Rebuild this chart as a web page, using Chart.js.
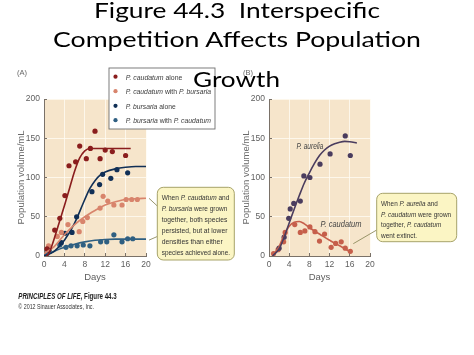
<!DOCTYPE html>
<html><head><meta charset="utf-8">
<script src="https://cdn.jsdelivr.net/npm/chart.js@4.4.1/dist/chart.umd.min.js"></script>
<style>
html,body{margin:0;padding:0;background:#fff;width:474px;height:355px;overflow:hidden;position:relative;}
.wrap{position:absolute;top:0;}
#wa{left:0;width:240px;height:290px;}
#wb{left:224px;width:250px;height:290px;}
#ov{position:absolute;left:0;top:0;}
</style></head><body>
<div class="wrap" id="wa"><canvas id="ca"></canvas></div>
<div class="wrap" id="wb"><canvas id="cb"></canvas></div>
<svg id="ov" xmlns="http://www.w3.org/2000/svg" width="474" height="355"></svg>
<script>
// ---------- text ----------
const titleLines = ['Figure 44.3  Interspecific', 'Competition Affects Population', 'Growth'];
const panelLabels = ['(A)', '(B)'];
const xTitle = 'Days';
const yTitle = 'Population volume/mL';
const xTickValues = [0, 4, 8, 12, 16, 20];
const yTickValues = [0, 50, 100, 150, 200];
const legendLabels = ['*P. caudatum* alone', '*P. caudatum* with *P. bursaria*', '*P. bursaria* alone', '*P. bursaria* with *P. caudatum*'];
const calloutTextA = ['When *P. caudatum* and', '*P. bursaria* were grown', 'together, both species', 'persisted, but at lower', 'densities than either', 'species achieved alone.'];
const calloutTextB = ['When *P. aurelia* and', '*P. caudatum* were grown', 'together, *P. caudatum*', 'went extinct.'];
const curveLabelsB = ['*P. aurelia*', '*P. caudatum*'];
const footerLines = ['*PRINCIPLES OF LIFE,* Figure 44.3', '\u00A9 2012 Sinauer Associates, Inc.'];

// ---------- panel A data (observed points) ----------
const daysCaudatumAlone = [0.6, 2.1, 3.1, 4.1, 4.9, 6.2, 7.0, 8.3, 9.1, 10.0, 11.0, 12.0, 13.4, 16.0];
const caudatumAlone     = [9,   33,  48,  77,  115, 120, 140, 124, 137, 159,  124,  135,  133,  128];
const daysCaudatumWithBursaria = [0.9, 2.6, 3.4, 4.7, 6.9, 7.6, 8.5, 11.0, 11.6, 12.5, 13.7, 15.3, 16.1, 17.2, 18.3];
const caudatumWithBursaria     = [13,  25,  30,  40,  31,  44,  49,  61,   76,   70,   65,   65,   72,   72,   72];
const daysBursariaAlone = [1.0, 3.4, 4.1, 5.5, 6.4, 9.4, 10.9, 11.5, 13.1, 14.3, 16.4];
const bursariaAlone     = [7,   17,  29,  30,  50,  82,  91,   104,  99,   110,  106];
const daysBursariaWithCaudatum = [0.6, 3.1, 4.3, 5.3, 6.5, 7.7, 9.0, 11.1, 12.3, 13.7, 15.3, 16.4, 17.4];
const bursariaWithCaudatum     = [3,   14,  11,  13,  13,  14,  13,  18,   18,   27,   18,   22,   22];

// ---------- panel A fitted curves ----------
const curveDaysCaudatumAlone = [0.5, 1, 2, 3, 4, 5, 6, 7, 8, 9, 10, 12, 14, 17];
const curveCaudatumAlone     = [0, 4, 22, 43, 64, 86, 108, 125, 134, 137, 137, 137, 137, 137];
const curveDaysCaudatumWithBursaria = [0, 2, 4, 6, 8, 10, 12, 14, 16, 18, 20];
const curveCaudatumWithBursaria     = [3, 12, 27, 40, 50, 58, 65, 69, 72, 73, 73.5];
const curveDaysBursariaAlone = [0, 2, 4, 6, 8, 9, 10, 11, 12, 14, 16, 18, 20];
const curveBursariaAlone     = [0, 6, 20, 42, 72, 86, 96, 103, 107, 111, 113, 114, 114];
const curveDaysBursariaWithCaudatum = [0, 2, 4, 6, 8, 10, 12, 14, 16, 18, 20];
const curveBursariaWithCaudatum     = [0, 6, 11, 15, 18, 20, 21, 21.5, 21.5, 21.5, 21.5];

// ---------- panel B data ----------
const daysAurelia = [2.0, 3.0, 3.9, 4.2, 4.9, 6.2, 6.9, 8.1, 10.1, 12.1, 15.1, 16.1];
const aurelia     = [10,  24,  48,  60,  67,  70,  102, 100, 117,  130,  153,  128];
const daysCaudatumB = [0.9, 1.8, 2.9, 3.2, 5.1, 6.2, 7.1, 8.1, 9.1, 10.0, 11.0, 12.3, 13.2, 14.3, 15.1, 16.1];
const caudatumB     = [3,   8,   18,  30,  40,  30,  32,  37,  31,  19,   28,   11,   16,   18,   10,   6];
const curveDaysAurelia = [0.7, 2, 3, 4, 5, 6, 7, 8, 9, 10, 11, 12, 13, 14, 15, 16, 17.4];
const curveAurelia     = [0, 9, 24, 42, 60, 77, 93, 106, 118, 128, 135, 140, 143, 145, 146, 145.5, 144];
const curveDaysCaudatumB = [0.7, 2, 3, 4, 5, 6, 7, 8, 10, 12, 14, 16.2];
const curveCaudatumB     = [0, 12, 27, 38, 43, 44, 41, 36, 28, 20, 13, 5];

// ---------- styles ----------
const colCaudatumAlone = '#8a1d1d';
const colCaudatumWith  = '#d8846c';
const colBursariaAlone = '#102f56';
const colBursariaWith  = '#2f5f82';
const colAurelia       = '#4a3c5e';
const colCaudatumB     = '#c65f4b';
const plotBg = '#f6e5cb';
const axisCol = '#7a7168';
const FONT = '"Liberation Sans", Arial, sans-serif';

Chart.defaults.font.family = FONT;

function pts(xs, ys) { return xs.map((x, i) => ({ x: x, y: ys[i] })); }
function pointDs(label, xs, ys, color) {
  return { label, data: pts(xs, ys), showLine: false, pointRadius: 2.6, pointHoverRadius: 2.6,
    pointBackgroundColor: color, pointBorderWidth: 0, borderColor: color, backgroundColor: color, order: 2 };
}
function curveDs(label, xs, ys, color) {
  return { label, data: pts(xs, ys), showLine: true, pointRadius: 0, pointHoverRadius: 0, borderColor: color,
    borderWidth: 1.6, fill: false, cubicInterpolationMode: 'monotone', order: 1 };
}

function makeScales(yWidth, yTitlePad) {
  return {
    x: {
      type: 'linear', position: 'bottom', min: 0, max: 20,
      afterBuildTicks: s => { s.ticks = xTickValues.map(v => ({ value: v })); },
      afterFit: s => { s.height = 34; },
      border: { display: true, color: axisCol, width: 1 },
      grid: { color: 'rgba(255,251,242,0.8)', lineWidth: 1, tickColor: axisCol, tickLength: -3, drawTicks: true },
      ticks: { color: '#5e5e5e', font: { size: 8.5 }, padding: 7, maxRotation: 0, autoSkip: false },
      title: { display: true, text: xTitle, color: '#5e5e5e', font: { size: 9.5 }, padding: { top: 0, bottom: 6.6 } }
    },
    y: {
      type: 'linear', position: 'left', min: 0, max: 200,
      afterBuildTicks: s => { s.ticks = yTickValues.map(v => ({ value: v })); },
      afterFit: s => { s.width = yWidth; },
      border: { display: true, color: axisCol, width: 1 },
      grid: { color: 'rgba(255,251,242,0.8)', lineWidth: 1, tickColor: axisCol, tickLength: -3, drawTicks: true },
      ticks: { color: '#5e5e5e', font: { size: 8.5 }, padding: 7 },
      title: { display: true, text: yTitle, color: '#6a6a6a', font: { size: 9.5 }, padding: { top: yTitlePad, bottom: 0 } }
    }
  };
}

// callout boxes (page coordinates) and pointer targets (dataset index, offsets)
const calloutA = { x: 157.3, y: 187.3, w: 77, h: 72.7, pointers: [{ ds: 5, dx: 3, dy: 0, toY: 206 }, { ds: 7, dx: 3, dy: 1, toY: 236.5 }] };
const calloutB = { x: 376.7, y: 193.3, w: 80, h: 48.4, pointers: [{ ds: 3, dx: 2.5, dy: -8.4, toY: 230 }] };

function makePlugin(callout, offsetX) {
  return {
    id: 'deco',
    beforeDraw(chart) {
      const a = chart.chartArea, ctx = chart.ctx;
      ctx.save(); ctx.fillStyle = plotBg; ctx.fillRect(a.left, a.top, a.right - a.left, a.bottom - a.top); ctx.restore();
    },
    afterDraw(chart) {
      const ctx = chart.ctx, xs = chart.scales.x, ys = chart.scales.y;
      ctx.save(); ctx.strokeStyle = '#8d8a5c'; ctx.lineWidth = 0.9;
      callout.pointers.forEach(p => {
        const d = chart.data.datasets[p.ds].data; const last = d[d.length - 1];
        const px = xs.getPixelForValue(last.x) + p.dx, py = ys.getPixelForValue(last.y) + p.dy;
        ctx.beginPath(); ctx.moveTo(px, py); ctx.lineTo(callout.x - offsetX, p.toY); ctx.stroke();
      });
      ctx.restore();
    }
  };
}

const dsA = [
  pointDs(legendLabels[0], daysCaudatumAlone, caudatumAlone, colCaudatumAlone),
  pointDs(legendLabels[1], daysCaudatumWithBursaria, caudatumWithBursaria, colCaudatumWith),
  pointDs(legendLabels[2], daysBursariaAlone, bursariaAlone, colBursariaAlone),
  pointDs(legendLabels[3], daysBursariaWithCaudatum, bursariaWithCaudatum, colBursariaWith),
  curveDs('fit caudatum alone', curveDaysCaudatumAlone, curveCaudatumAlone, colCaudatumAlone),
  curveDs('fit caudatum with bursaria', curveDaysCaudatumWithBursaria, curveCaudatumWithBursaria, colCaudatumWith),
  curveDs('fit bursaria alone', curveDaysBursariaAlone, curveBursariaAlone, colBursariaAlone),
  curveDs('fit bursaria with caudatum', curveDaysBursariaWithCaudatum, curveBursariaWithCaudatum, colBursariaWith)
];
const dsB = [
  pointDs('P. aurelia', daysAurelia, aurelia, colAurelia),
  pointDs('P. caudatum', daysCaudatumB, caudatumB, colCaudatumB),
  curveDs('fit aurelia', curveDaysAurelia, curveAurelia, colAurelia),
  curveDs('fit caudatum', curveDaysCaudatumB, curveCaudatumB, colCaudatumB)
];

function makeChart(id, datasets, padRight, yWidth, yTitlePad, plugin) {
  return new Chart(document.getElementById(id), {
    type: 'scatter',
    data: { datasets },
    options: {
      responsive: true, maintainAspectRatio: false, animation: false, devicePixelRatio: 1,
      layout: { padding: { left: 0, top: 99, right: padRight, bottom: 0 } },
      plugins: { legend: { display: false }, tooltip: { enabled: false } },
      scales: makeScales(yWidth, yTitlePad)
    },
    plugins: [plugin]
  });
}
makeChart('ca', dsA, 94, 44, 16, makePlugin(calloutA, 0));
makeChart('cb', dsB, 104, 45, 17, makePlugin(calloutB, 224));

// ---------- SVG overlay: annotations ----------
const NS = 'http://www.w3.org/2000/svg';
const ov = document.getElementById('ov');
function mk(tag, attrs, parent) {
  const e = document.createElementNS(NS, tag);
  for (const k in attrs) e.setAttribute(k, attrs[k]);
  (parent || ov).appendChild(e); return e;
}
function svgText(str, x, y, o) {
  const t = mk('text', { x, y, 'font-size': o.size, fill: o.fill || '#333', 'font-family': o.family || FONT });
  if (o.weight) t.setAttribute('font-weight', o.weight);
  t.style.whiteSpace = 'pre';
  str.split(/(\*[^*]+\*)/).forEach(part => {
    if (!part) return;
    const ts = mk('tspan', {}, t);
    if (part[0] === '*') { ts.setAttribute('font-style', 'italic'); ts.textContent = part.slice(1, -1); }
    else ts.textContent = part;
  });
  if (o.width) { t.setAttribute('textLength', o.width); t.setAttribute('lengthAdjust', 'spacingAndGlyphs'); }
  return t;
}

// panel labels
svgText(panelLabels[0], 17, 75, { size: 8, fill: '#666', width: 10 });
svgText(panelLabels[1], 243, 75, { size: 8, fill: '#666', width: 10 });

// legend
mk('rect', { x: 109, y: 68, width: 106, height: 61, fill: '#fff', stroke: '#6f6f6f', 'stroke-width': 0.9 });
const legendRowsY = [79.5, 94, 108.6, 123];
const legendWidths = [56.7, 85.3, 50, 85.3];
legendLabels.forEach((lab, i) => {
  mk('circle', { cx: 115.5, cy: legendRowsY[i] - 2.8, r: 2.1, fill: dsA[i].pointBackgroundColor });
  svgText(lab, 125.7, legendRowsY[i], { size: 8, fill: '#3a3a3a', width: legendWidths[i] });
});

// callouts
function drawCallout(c, lines, widths, firstBase, step) {
  mk('rect', { x: c.x, y: c.y, width: c.w, height: c.h, rx: 6, ry: 6, fill: '#fbf5c4', stroke: '#a7a36a', 'stroke-width': 1 });
  lines.forEach((l, i) => svgText(l, c.x + 4.4, firstBase + i * step, { size: 8, fill: '#333', width: widths[i] }));
}
drawCallout(calloutA, calloutTextA, [67.7, 65.7, 65.7, 65.7, 61, 68.3], 199.6, 11);
drawCallout(calloutB, calloutTextB, [56.7, 70, 60, 36], 206, 10.6);

// curve labels panel B
svgText(curveLabelsB[0], 296.5, 148.5, { size: 8.5, fill: '#444', width: 27 });
svgText(curveLabelsB[1], 320.5, 227.2, { size: 8.5, fill: '#444', width: 41 });

// footer
svgText(footerLines[0], 18.3, 298.6, { size: 9.5, fill: '#222', weight: 'bold', width: 98.4 });
svgText(footerLines[1], 18.3, 308.8, { size: 7, fill: '#333', width: 75.7 });

// title (on top)
svgText(titleLines[0], 94, 18.3, { size: 22, fill: '#000', family: 'Lato, "Open Sans", sans-serif', width: 286 });
svgText(titleLines[1], 53, 46.7, { size: 22, fill: '#000', family: 'Lato, "Open Sans", sans-serif', width: 368 });
svgText(titleLines[2], 193, 87.3, { size: 22, fill: '#000', family: 'Lato, "Open Sans", sans-serif', width: 87 });
</script>
</body></html>
